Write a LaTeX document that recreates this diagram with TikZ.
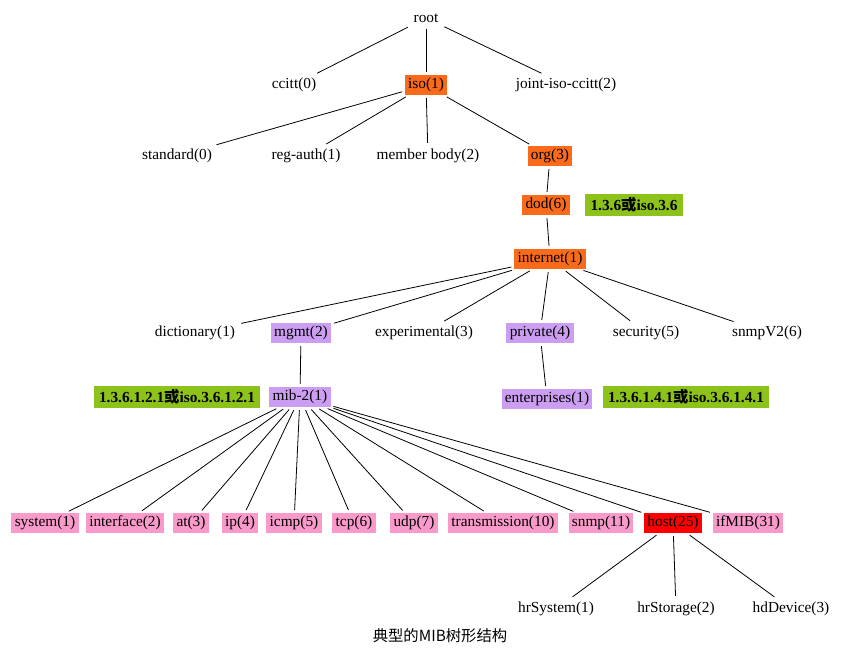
\documentclass[tikz,border=0pt]{standalone}
\usepackage{fontspec}
\setmainfont{Liberation Serif}
\newfontfamily\cjk{Noto Sans CJK SC}
\begin{document}
\begin{tikzpicture}[x=0.75pt,y=-0.75pt,
  every node/.style={font=\fontsize{11.5}{13}\selectfont,inner xsep=2.5pt,inner ysep=2.5pt},
  og/.style={fill=orgc},
  pu/.style={fill=purc},
  pk/.style={fill=pinkc},
  rd/.style={fill=red},
  gr/.style={fill=grc,inner xsep=4pt,font=\fontsize{11.5}{13}\selectfont\bfseries},
  e/.style={draw=black,line width=0.6pt}]
\definecolor{orgc}{HTML}{F96A1B}
\definecolor{purc}{HTML}{CC9EF2}
\definecolor{pinkc}{HTML}{F99ACB}
\definecolor{grc}{HTML}{8CC21A}
\useasboundingbox (0,0) rectangle (847,653);
\node (root) at (426,18) {root};
\node (ccitt) at (294,85) {ccitt(0)};
\node[og] (iso) at (426,85) {iso(1)};
\node (joint) at (566,85) {joint-iso-ccitt(2)};
\node (std) at (177,156) {standard(0)};
\node (reg) at (306,156) {reg-auth(1)};
\node (mem) at (428,156) {member body(2)};
\node[og] (org) at (550,156) {org(3)};
\node[og] (dod) at (546,205) {dod(6)};
\node[gr] (g1) at (634,205) {1.3.6{\cjk 或}iso.3.6};
\node[og] (inet) at (550,259) {internet(1)};
\node (dict) at (195,333) {dictionary(1)};
\node[pu] (mgmt) at (301,333) {mgmt(2)};
\node (exp) at (424,333) {experimental(3)};
\node[pu] (priv) at (540,333) {private(4)};
\node (sec) at (646,333) {security(5)};
\node (snv2) at (767,333) {snmpV2(6)};
\node[pu] (mib) at (300,397) {mib-2(1)};
\node[gr] (g2) at (177,397) {1.3.6.1.2.1{\cjk 或}iso.3.6.1.2.1};
\node[pu] (ent) at (547,399) {enterprises(1)};
\node[gr] (g3) at (686,397) {1.3.6.1.4.1{\cjk 或}iso.3.6.1.4.1};
\foreach \n/\x/\s/\l in {sys/45/pk/system(1),intf/125/pk/interface(2),at/191/pk/at(3),ip/240/pk/ip(4),icmp/294/pk/icmp(5),tcp/354/pk/tcp(6),udp/414/pk/udp(7),trans/503/pk/transmission(10),snmp/601/pk/snmp(11),host/673/rd/host(25),ifmib/748/pk/ifMIB(31)}
  \node[\s] (\n) at (\x,523) {\l};
\node (hrs) at (556,609) {hrSystem(1)};
\node (hrst) at (676,609) {hrStorage(2)};
\node (hd) at (791,609) {hdDevice(3)};
\node (cap) at (440,636) {\cjk 典型的MIB树形结构};
\foreach \a/\b in {root/ccitt,root/iso,root/joint,iso/std,iso/reg,iso/mem,iso/org,org/dod,dod/inet,
  inet/dict,inet/mgmt,inet/exp,inet/priv,inet/sec,inet/snv2,mgmt/mib,priv/ent,
  mib/sys,mib/intf,mib/at,mib/ip,mib/icmp,mib/tcp,mib/udp,mib/trans,mib/snmp,mib/host,mib/ifmib,
  host/hrs,host/hrst,host/hd}
  \draw[e,shorten <=2pt,shorten >=2pt] (\a) -- (\b);
\end{tikzpicture}
\end{document}
